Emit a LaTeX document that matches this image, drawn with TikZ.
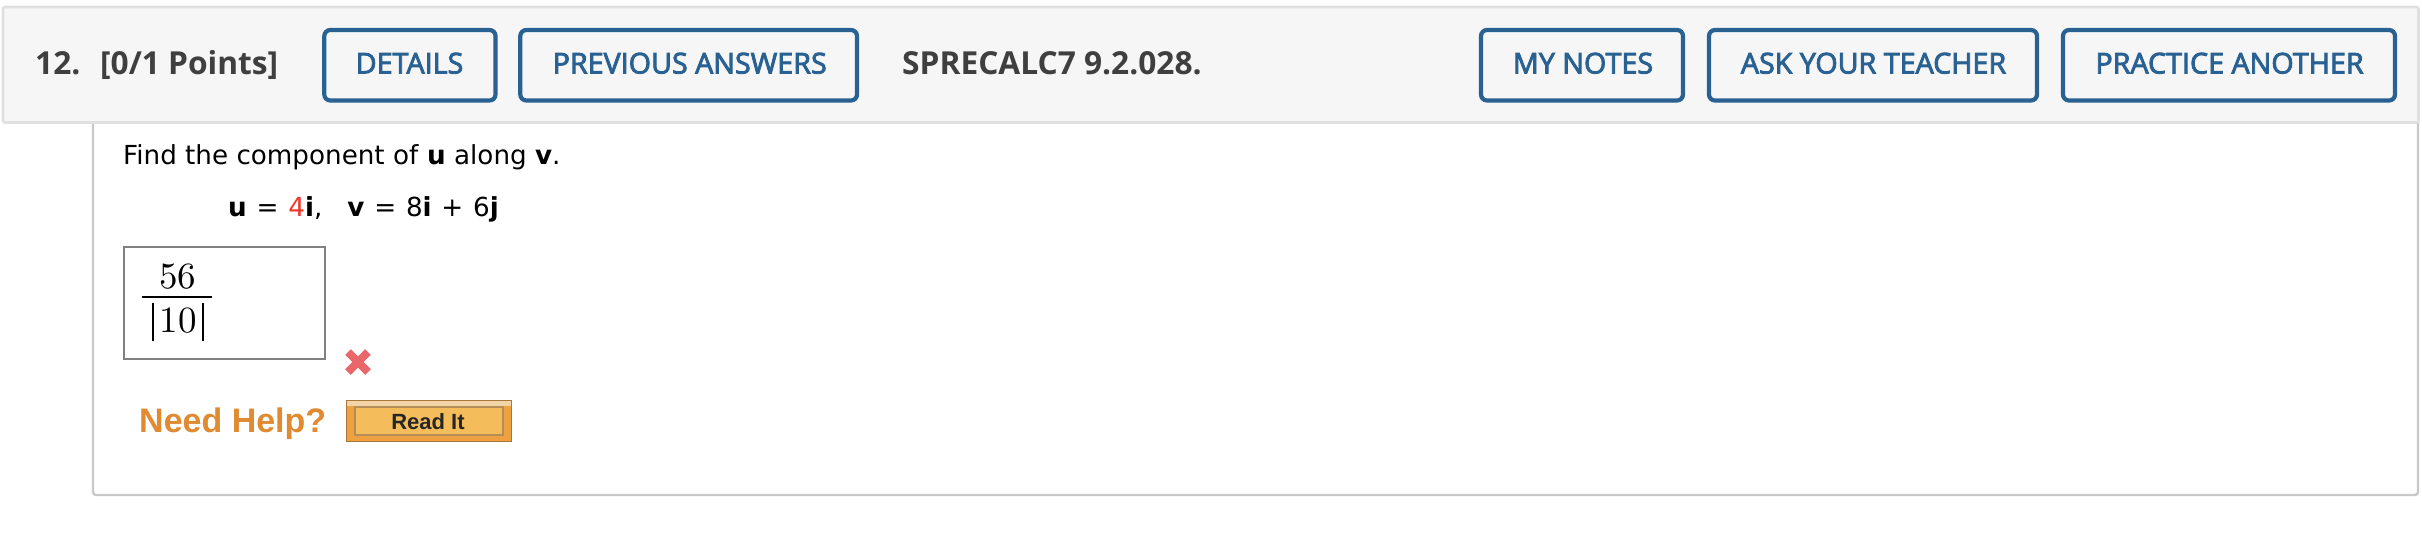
\documentclass[tikz,border=0pt]{standalone}
\usepackage{fontspec}
\setmainfont{Open Sans}
\newfontfamily\btnfont[FakeBold=3]{Open Sans}
\newfontfamily\dejavu{DejaVu Sans}
\newfontfamily\arial{Liberation Sans}
\newfontfamily\lmr[Extension=.otf]{lmroman10-regular}
\definecolor{btnblue}{HTML}{296292}
\definecolor{hdrfill}{HTML}{F6F6F6}
\definecolor{hdrline}{HTML}{E0E0E0}
\definecolor{panelline}{HTML}{C8C8C8}
\definecolor{headtext}{HTML}{3F3F3F}
\definecolor{helporange}{HTML}{E08A32}
\definecolor{redfour}{HTML}{F0352A}
\definecolor{crossred}{HTML}{E9676B}
\definecolor{readouter}{HTML}{EFA040}
\definecolor{readinner}{HTML}{F4BC5A}
\definecolor{readedge}{HTML}{A87838}
\definecolor{readlight}{HTML}{F3D4A8}
\definecolor{readin}{HTML}{B48E58}
\tikzset{
  x=1pt,y=-1pt,
  btnbox/.style={draw=btnblue,line width=4.2pt,fill=hdrfill,rounded corners=6pt},
  btntext/.style={anchor=base,inner sep=0pt,text=btnblue,font=\btnfont\fontsize{28.7}{30}\selectfont},
  headlabel/.style={anchor=base west,inner sep=0pt,text=headtext,font=\fontsize{31.7}{33}\selectfont\bfseries},
  mathtext/.style={anchor=base west,inner sep=0pt,font=\dejavu\fontsize{26.2}{30}\selectfont},
  fractext/.style={anchor=base,inner sep=0pt,font=\lmr\fontsize{37}{40}\selectfont},
}
\begin{document}
\begin{tikzpicture}
\useasboundingbox (0,0) rectangle (2422,536);
\fill[white] (0,0) rectangle (2422,536);
% lower panel
\draw[panelline,line width=2.4pt,rounded corners=3pt] (93,110) -- (93,495) -- (2418,495) -- (2418,110);
% header
\draw[hdrline,line width=2.6pt,fill=hdrfill,rounded corners=2pt] (3,7) rectangle (2418.5,122.5);
\node[headlabel] (num) at (35,74) {12.};
\node[headlabel] (pts) at (100,74) {[0/1 Points]};
\node[headlabel] (code) at (902,74) {SPRECALC7 9.2.028.};
\draw[btnbox] (324.3,30) rectangle (495.5,100.5);
\node[btntext] (det) at (409.5,73.5) {DETAILS};
\draw[btnbox] (520.3,30) rectangle (857,100.5);
\node[btntext] (prev) at (689.7,73.5) {PREVIOUS ANSWERS};
\draw[btnbox] (1481,30) rectangle (1683,100.5);
\node[btntext] (notes) at (1583,73.5) {MY NOTES};
\draw[btnbox] (1709,30) rectangle (2037,100.5);
\node[btntext] (ask) at (1873.5,73.5) {ASK YOUR TEACHER};
\draw[btnbox] (2063,30) rectangle (2395,100.5);
\node[btntext] (prac) at (2229.5,73.5) {PRACTICE ANOTHER};
% question
\node[mathtext] (find) at (123,164) {Find the component of \textbf{u} along \textbf{v}.};
\node[mathtext] (eq) at (228,216) {\spaceskip=9.8pt \textbf{u} = \textcolor{redfour}{4}\textbf{i},\hspace{25pt}\textbf{v} = 8\textbf{i} + 6\textbf{j}};
% answer box
\draw[draw=black!50,line width=2pt] (123.5,247) rectangle (325,359);
\node[fractext] (n56) at (177.5,288) {56};
\draw[black,line width=1.6pt] (142,296.8) -- (211.7,296.8);
\node[fractext] (n10) at (178,332) {10};
\draw[black,line width=1.6pt] (153,303) -- (153,341);
\draw[black,line width=1.6pt] (203,303) -- (203,341);
% cross
\draw[crossred,line width=8pt] (348,352) -- (368,372);
\draw[crossred,line width=8pt] (368,352) -- (348,372);
% help
\node[anchor=base west,inner sep=0pt,text=helporange,font=\arial\fontsize{34}{36}\selectfont\bfseries] (help) at (139,432) {Need Help?};
\fill[readouter] (346,400) rectangle (512,442);
\fill[readlight] (347,401) rectangle (511,406);
\draw[readedge,line width=1.6pt] (346.5,400.5) rectangle (511.5,441.5);
\draw[readin,line width=2pt,fill=readinner] (355,407) rectangle (503,435);
\node[anchor=base,inner sep=0pt,text=black!85,font=\arial\fontsize{22}{24}\selectfont\bfseries] (read) at (428,429) {Read It};
\end{tikzpicture}
\end{document}
